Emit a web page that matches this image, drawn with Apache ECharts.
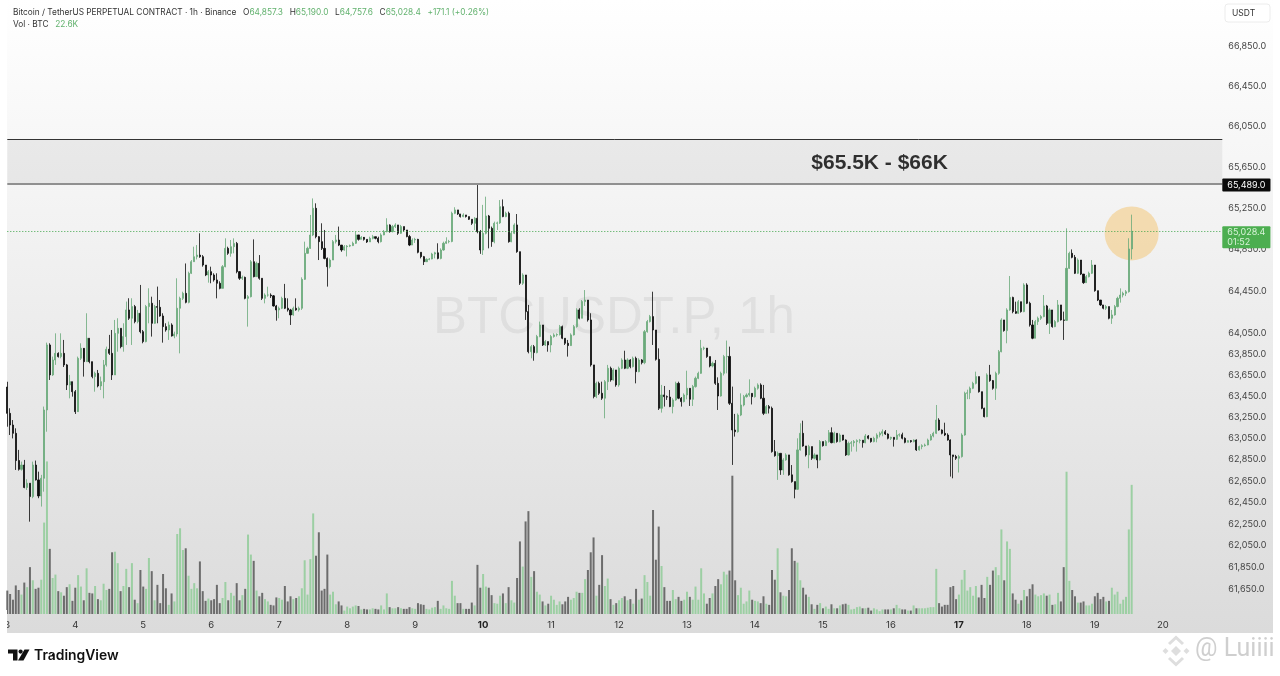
<!DOCTYPE html>
<html><head><meta charset="utf-8">
<style>html,body{margin:0;padding:0;background:#fff}#c{width:1280px;height:676px}</style>
<script src="https://cdn.jsdelivr.net/npm/echarts@6/dist/echarts.min.js"></script>
</head><body><div id="c"></div>
<script>
const firstOpen = 63535;
const closes = [
63286,63176,63098,62842,62760,62800,62590,62630,62505,62800,62661,62511,62676,63318,63935,63650,63792,63855,63824,63855,63745,63555,63586,63491,
63302,63808,63903,63776,63999,63776,63634,63665,63545,63586,63745,63894,63855,63650,64046,64094,63919,64015,64270,64190,64302,64158,64238,64062,
63967,64302,64334,64142,64302,64295,64212,64110,64078,64126,64021,64040,64286,64381,64429,64343,64622,64734,64782,64798,64782,64702,64606,64638,
64606,64558,64526,64477,64686,64863,64815,64879,64911,64638,64574,64583,64381,64397,64734,64590,64718,64574,64381,64413,64413,64405,64308,64270,
64286,64381,64286,64270,64222,64286,64270,64286,64564,64815,64863,64992,65252,64976,64928,64863,64766,64686,64750,64928,64944,64895,64847,64879,
64885,64890,64912,64993,64950,64970,64950,64925,64960,64976,64960,64928,64993,65025,65090,65025,65074,65090,65009,65074,65041,64977,64895,64944,
64950,64825,64783,64734,64757,64760,64808,64820,64766,64847,64912,64928,64930,65203,65236,65197,65171,65187,65171,65145,65106,65155,65025,64847,
65009,65177,65057,64928,65106,65110,65268,65171,65203,64928,65009,65090,64831,64526,64606,64254,63871,63919,63862,64015,64126,63935,63967,63935,
64015,64031,64035,64110,63999,63951,63929,64031,64110,64270,64190,64350,64365,64174,63745,63445,63570,63476,63429,63586,63713,63602,63697,63555,
63713,63792,63713,63792,63729,63808,63681,63792,63767,64062,64158,64206,64078,63798,63334,63460,63444,63440,63350,63413,63570,63429,63397,63460,
63523,63419,63539,63618,63665,63903,63905,63824,63735,63760,63570,63450,63665,63824,63826,63381,63129,63113,63270,63365,63444,63460,63475,63444,
63523,63555,63429,63286,63350,63334,62926,62888,62910,62754,62848,62895,62708,62645,62573,62942,63098,62979,62895,62973,62864,62895,62848,63020,
62982,63020,63104,63010,63098,63020,63082,63035,62895,63004,63010,63020,63029,63033,63010,63073,63051,63020,63051,63082,63098,63113,63091,63051,
63060,63041,63082,63085,63051,63013,63029,63020,63035,62942,62973,62982,62988,63035,63073,63098,63223,63129,63098,63082,63035,62895,62879,62864,
62879,63082,63476,63480,63523,63570,63634,63491,63334,63255,63650,63596,63523,63665,63871,64174,64072,64270,64390,64254,64238,64349,64254,64510,
64334,64126,63999,64158,64190,64206,64308,64142,64270,64110,64158,64318,64174,64170,64670,64815,64776,64622,64750,64615,64532,64590,64622,64702,
64455,64365,64318,64286,64302,64190,64222,64302,64381,64413,64429,64445,64857.3,65028.4];
const highs = [
63585,63334,63223,63145,62942,62832,62848,62667,62630,62832,62842,62738,62708,63350,63957,63951,63824,64046,63865,64046,63983,63754,63650,63586,
63507,63824,63951,63808,64238,63999,63776,63681,63697,63634,63792,63919,64031,64078,64174,64190,64094,64142,64350,64382,64382,64318,64270,64510,
64078,64318,64478,64397,64318,64494,64365,64238,64142,64158,64142,64062,64574,64397,64445,64717,64638,64750,64879,64895,65009,64798,64702,64654,
64686,64622,64622,64545,64702,64960,64879,64944,64960,64925,64644,64600,64590,64413,64750,64950,64734,64798,64574,64429,64493,64429,64413,64318,
64302,64397,64520,64381,64280,64302,64381,64302,64583,64928,64879,65187,65348,65300,64982,65106,65041,64775,64766,64944,64993,65074,64895,64895,
64895,64900,64928,65025,64993,64982,64963,64950,64976,64993,64976,64976,65009,65041,65155,65096,65090,65106,65090,65090,65074,65041,64993,64960,
64965,64955,64825,64790,64766,64770,64820,64830,64912,64863,64928,64970,64945,65219,65262,65236,65197,65203,65187,65171,65145,65165,65489,65041,
65285,65365,65187,65074,65122,65122,65332,65338,65219,65219,65025,65106,65196,64831,64622,64590,64318,63935,63935,64031,64158,64126,63983,63967,
64031,64046,64046,64126,64120,63999,63983,64046,64126,64286,64286,64365,64461,64365,64238,63745,63586,63586,63586,63602,63745,63729,63713,63634,
63729,63808,63880,63808,63800,63824,63824,63808,63800,64078,64174,64222,64445,64078,63903,63555,63545,63455,63507,63429,63586,63586,63440,63475,
63690,63523,63555,63634,63681,63983,63919,63905,63824,63776,63792,63627,63681,63840,63977,63919,63539,63281,63285,63475,63460,63475,63608,63475,
63539,63570,63570,63555,63365,63365,63350,63035,62926,62910,62864,62910,62895,62800,62645,63051,63192,63217,62979,62989,62973,62910,62895,63035,
63020,63035,63129,63154,63113,63098,63098,63082,63041,63020,63026,63035,63041,63045,63033,63091,63082,63051,63066,63098,63113,63135,63129,63098,
63066,63060,63129,63098,63104,63060,63035,63035,63041,63041,62982,62995,63001,63048,63091,63113,63365,63240,63135,63198,63098,63041,62895,62895,
62895,63098,63491,63510,63539,63585,63681,63634,63491,63340,63665,63745,63602,63681,63887,64190,64174,64286,64596,64397,64349,64365,64349,64526,
64526,64349,64174,64174,64206,64222,64413,64318,64286,64270,64174,64365,64318,64254,65057,64831,64853,64799,64766,64750,64615,64606,64638,64750,
64702,64455,64365,64318,64318,64302,64270,64318,64397,64477,64445,64461,64961,65190.0];
const lows = [
63160,63082,63050,62754,62748,62748,62583,62567,62272,62490,62655,62490,62412,62551,63113,63602,63640,63745,63815,63808,63725,63507,63428,63444,
63280,63318,63792,63634,63776,63760,63618,63491,63532,63507,63428,63729,63840,63602,63650,63871,63903,63871,63935,64174,63935,64142,64142,64046,
63951,63960,64142,64015,64136,64142,64205,63957,64062,63983,64015,63999,64015,63855,64365,64333,64333,64615,64734,64756,64772,64686,64595,64532,
64526,64542,64381,64468,64477,64680,64800,64782,64815,64622,64558,64558,64372,64110,64390,64583,64590,64560,64365,64333,64397,64385,64302,64167,
64190,64278,64278,64254,64126,64214,64262,64254,64270,64558,64810,64857,64982,64960,64750,64847,64757,64494,64670,64750,64910,64885,64830,64840,
64785,64875,64885,64905,64938,64950,64938,64915,64925,64950,64950,64912,64920,64990,65018,65015,65018,65060,64993,65003,65025,64970,64885,64895,
64915,64815,64766,64702,64735,64748,64757,64766,64757,64757,64840,64905,64912,64922,65195,65187,65162,65165,65162,65138,65090,65041,65009,64810,
64799,64998,64863,64878,64912,65041,65100,65165,65165,64918,64922,65001,64820,64510,64510,64174,63855,63808,63785,63855,64009,63925,63925,63871,
63865,64005,64015,64025,63990,63935,63824,63925,64025,64100,64180,64190,64308,64158,63729,63428,63430,63460,63413,63239,63507,63586,63596,63538,
63538,63705,63705,63705,63713,63721,63570,63675,63750,63752,64052,64150,63935,63786,63318,63293,63350,63413,63345,63286,63405,63420,63350,63390,
63419,63356,63356,63530,63610,63660,63885,63812,63722,63722,63555,63318,63444,63645,63665,63365,62801,63067,63104,63260,63352,63435,63444,63370,
63435,63510,63420,63270,63280,63285,62916,62878,62661,62708,62708,62840,62700,62635,62489,62567,62935,62972,62880,62770,62848,62854,62770,62842,
62973,62979,63010,63004,63004,63010,63013,63029,62885,62889,62926,62973,62926,63004,62963,63004,63041,63010,63013,63013,63060,63070,63082,63041,
63035,62973,63035,63066,63041,63004,63013,63010,63013,62932,62935,62948,62973,62985,63029,63060,63091,63123,63088,63072,63029,62692,62676,62848,
62730,62870,63075,63420,63420,63515,63560,63482,63325,63248,63250,63585,63510,63413,63651,63865,64062,63951,64262,64238,64232,64232,64244,64248,
64326,64110,63990,63999,64126,64174,64200,64126,64040,64100,64105,64150,64168,63983,64165,64664,64767,64615,64615,64605,64520,64530,64582,64615,
64445,64355,64308,64276,64270,64180,64136,64215,64295,64340,64390,64403,64436,64757.6];
const volumesK = [
4.1,3.5,2.5,5.0,4.2,3.4,5.5,4.7,8.2,5.9,4.4,4.6,6.0,16.0,26.7,11.4,6.3,6.9,4.0,3.8,3.2,4.7,5.2,2.3,
4.6,6.8,4.8,2.4,8.0,3.7,3.6,4.9,2.6,2.4,5.3,4.2,4.4,10.8,10.9,8.9,4.0,4.9,7.9,4.7,8.9,2.5,1.9,7.7,
4.8,4.4,9.8,7.5,2.4,5.1,1.9,7.0,4.5,1.6,3.6,2.2,14.0,15.0,11.2,11.5,6.7,4.4,5.4,4.5,9.2,4.0,2.3,2.7,
2.4,2.6,5.1,1.9,2.8,5.6,2.4,3.7,3.2,5.4,2.4,3.3,4.4,13.9,10.4,9.3,4.1,3.1,3.7,2.6,2.2,1.6,1.5,2.9,
2.8,2.5,4.9,2.2,3.1,2.6,2.8,3.1,4.5,9.4,3.4,9.6,17.6,10.2,14.3,4.1,4.4,10.4,3.4,3.9,1.7,2.2,1.5,0.6,
1.3,1.0,1.3,1.5,1.4,0.8,0.9,0.8,0.8,1.0,0.9,0.8,1.5,0.8,3.6,1.2,1.0,1.0,1.2,1.0,0.9,0.9,1.2,1.0,
0.9,1.9,1.7,1.6,0.9,0.8,1.1,1.2,2.3,0.9,1.5,1.0,0.9,5.8,3.2,1.9,1.9,0.9,0.9,0.9,2.0,1.5,8.6,4.6,
7.0,4.8,4.6,3.3,1.9,1.8,3.2,3.6,1.9,4.7,2.4,2.0,6.3,12.7,8.3,16.2,18.0,6.5,7.5,3.9,3.4,2.2,1.5,1.8,
3.2,2.5,1.6,2.2,1.7,2.2,3.0,2.5,2.8,3.9,3.7,3.7,6.1,7.7,10.8,13.4,3.2,5.1,10.3,4.9,6.2,2.6,1.6,1.9,
2.4,2.8,3.1,2.4,2.6,1.8,4.4,2.5,2.7,6.8,5.6,3.2,18.2,9.5,15.3,8.4,4.7,2.3,2.3,4.2,2.6,3.0,2.3,2.5,
3.9,3.0,2.5,4.8,2.5,8.0,3.6,1.8,2.8,3.6,4.9,6.1,5.2,7.4,6.9,7.6,24.2,5.9,3.3,4.6,1.8,2.2,4.1,2.5,
2.3,2.2,1.9,3.1,1.8,1.6,7.7,6.0,11.5,3.8,3.2,3.1,4.2,11.5,9.3,9.0,5.9,4.6,3.4,3.0,1.7,0.9,1.6,1.9,
1.0,1.3,0.9,1.7,1.0,1.0,1.5,1.7,1.8,1.6,0.8,0.9,1.2,1.3,1.0,1.0,1.1,0.6,1.0,0.8,0.5,0.8,0.8,0.8,
0.8,1.0,1.6,1.0,0.8,0.8,0.6,0.6,1.5,1.0,1.0,1.0,1.0,1.1,1.2,1.2,7.9,1.9,1.3,1.6,1.6,4.7,4.9,2.6,
3.4,6.0,7.7,4.1,4.7,3.2,4.9,2.9,5.1,2.8,6.5,5.1,7.6,8.2,6.8,14.8,5.9,12.7,11.4,3.6,2.5,1.8,2.4,4.2,
3.1,4.4,5.2,3.4,3.1,3.3,3.6,3.2,3.4,1.6,1.7,3.7,2.2,8.2,24.9,5.8,4.2,3.1,2.0,2.0,2.2,1.5,1.5,1.8,
3.1,3.7,2.6,3.0,2.2,2.3,4.6,3.4,3.9,1.8,2.5,3.0,14.8,22.6];
const priceTicks = [66850,66450,66050,65650,65250,64850,64450,64050,63850,63650,63450,63250,63050,62850,62650,62450,62250,62050,61850,61650];
const boldDays = ['10','17'];
const zoneLow = 65489, zoneHigh = 65930;
const lastPrice = 65028.4;
const highlightPrice = 65008;
const annotationPrice = 65695;
const firstDay = 3, slotCount = 430;

const opens = closes.map((c,i)=> i===0 ? firstOpen : (i===closes.length-1 ? 64857.3 : closes[i-1]));
const categories = Array.from({length:slotCount},(_,i)=>{
  const d = firstDay+Math.floor(i/24), h = i%24;
  return h===0 ? String(d) : d+' '+h+':00';
});
const UP='#6aa97a', DOWN='#0c0c0c';
const LEFT=7.3, WIDTH=1215;
const fmtPrice = v => Number(v).toLocaleString('en-US',{minimumFractionDigits:1,maximumFractionDigits:1});
const FONT='Inter, "Liberation Sans", sans-serif';
const ICON='#dedede';

const chart = echarts.init(document.getElementById('c'),null,{renderer:'canvas'});
chart.setOption({
  animation:false,
  backgroundColor:'#ffffff',
  textStyle:{fontFamily:FONT},
  grid:[
    {left:LEFT,top:0,width:WIDTH,height:614},
    {left:LEFT,top:454,width:WIDTH,height:160}
  ],
  xAxis:[
    {type:'category',gridIndex:0,data:categories,boundaryGap:false,
     axisLine:{show:false},axisTick:{show:false},axisLabel:{show:false},splitLine:{show:false}},
    {type:'category',gridIndex:1,data:categories,boundaryGap:false,
     axisLine:{show:false},axisTick:{show:false},splitLine:{show:false},
     axisLabel:{show:true,interval:i=>i%24===0,margin:6,color:'#333',fontSize:9.5,fontFamily:FONT,
       showMinLabel:true,hideOverlap:false,
       formatter:v=>boldDays.includes(v)?`{b|${v}}`:v,
       rich:{b:{fontWeight:'bold',fontSize:9.5,color:'#222',fontFamily:FONT}}}}
  ],
  yAxis:[
    {type:'log',logBase:10,gridIndex:0,position:'right',min:61420,max:67311,
     axisLine:{show:false},axisTick:{show:false},splitLine:{show:false},minorTick:{show:false},minorSplitLine:{show:false},
     axisLabel:{show:true,customValues:priceTicks,margin:6,padding:[2,0,0,0],color:'#444',fontSize:9,fontFamily:FONT,formatter:v=>fmtPrice(v)}},
    {type:'value',gridIndex:1,min:0,max:28,show:false,splitLine:{show:false}}
  ],
  series:[
    {type:'scatter',name:'highlight',xAxisIndex:0,yAxisIndex:0,z:1,silent:true,symbolSize:54,
     data:[[397,highlightPrice]],itemStyle:{color:'rgba(243,190,90,0.55)'}},
    {type:'bar',name:'Vol',xAxisIndex:1,yAxisIndex:1,barWidth:2,z:2,silent:true,
     data:volumesK.map((v,i)=>({value:v,itemStyle:{color:closes[i]>=opens[i]?'#9ccfa3':'#6c6c6c'}}))},
    {type:'candlestick',name:'BTCUSDT.P',xAxisIndex:0,yAxisIndex:0,barWidth:1.6,z:3,silent:true,
     data:closes.map((c,i)=>[opens[i],c,lows[i],highs[i]]),
     itemStyle:{color:UP,color0:DOWN,borderColor:UP,borderColor0:DOWN,borderWidth:0.8},
     markArea:{silent:true,itemStyle:{color:'rgba(0,0,0,0.055)'},data:[[{yAxis:zoneLow,x:LEFT},{yAxis:zoneHigh,x:LEFT+WIDTH}]]},
     markLine:{silent:true,symbol:'none',animation:false,data:[
       {yAxis:zoneHigh,lineStyle:{color:'#333',width:1,type:'solid'},label:{show:false}},
       {yAxis:zoneLow,lineStyle:{color:'#909090',width:2,type:'solid'},
        label:{show:true,position:'end',distance:0,formatter:'65,489.0',color:'#fff',fontSize:9,fontFamily:FONT,backgroundColor:'#0b0b0b',padding:[2,5,2,5],borderRadius:1,offset:[0,1]}},
       {yAxis:lastPrice,lineStyle:{color:'#3fa54a',width:1,type:[1,2],opacity:1},
        label:{show:true,position:'end',distance:0,formatter:'65,028.4\n01:52',color:'#d8f3d8',fontSize:9,lineHeight:10,fontFamily:FONT,backgroundColor:'#4cae50',padding:[1,5,1,5],borderRadius:1,offset:[0,6],align:'left'}}
     ]}},
    {type:'scatter',name:'zoneLabel',xAxisIndex:0,yAxisIndex:0,z:4,silent:true,symbolSize:0.01,
     itemStyle:{color:'#000000'},data:[[307.5,annotationPrice]],
     label:{show:true,position:'inside',formatter:'$65.5K - $66K',color:'#000000',fontSize:21,fontWeight:'bold',fontFamily:'"Liberation Sans",sans-serif'}}
  ],
  graphic:[
    {type:'rect',z:-10,silent:true,shape:{x:7,y:0,width:1266,height:633},
     style:{fill:new echarts.graphic.LinearGradient(0,0,0,1,[{offset:0,color:'#ffffff'},{offset:1,color:'#dbdbdb'}])}},
    {type:'text',z:0,silent:true,x:614,y:319,style:{text:'BTCUSDT.P, 1h',fill:'rgba(0,0,0,0.06)',font:'51px "Liberation Sans", sans-serif',align:'center',verticalAlign:'middle'}},
    {type:'rect',z:100,silent:true,shape:{x:0,y:610,width:7,height:30},style:{fill:'#fff'}},
    {type:'text',z:10,silent:true,x:13,y:13,style:{
      rich:{k:{fill:'#333',fontSize:8.3,fontFamily:FONT},g:{fill:'#63b26f',fontSize:8.3,fontFamily:FONT}},
      text:'{k|Bitcoin / TetherUS PERPETUAL CONTRACT · 1h · Binance}  {k|O}{g|64,857.3}  {k|H}{g|65,190.0}  {k|L}{g|64,757.6}  {k|C}{g|65,028.4}  {g|+171.1 (+0.26%)}',
      verticalAlign:'middle'}},
    {type:'text',z:10,silent:true,x:13,y:25,style:{
      rich:{k:{fill:'#333',fontSize:8.3,fontFamily:FONT},g:{fill:'#63b26f',fontSize:8.3,fontFamily:FONT}},
      text:'{k|Vol · BTC}  {g|22.6K}',verticalAlign:'middle'}},
    {type:'rect',z:10,silent:true,shape:{x:1225,y:4,width:45,height:18,r:3},style:{fill:'#fff',stroke:'#ececec',lineWidth:1}},
    {type:'text',z:11,silent:true,x:1232,y:13,style:{text:'USDT',fill:'#333',font:'8.5px '+FONT,verticalAlign:'middle'}},
    {type:'polygon',z:10,silent:true,shape:{points:[[8,649.5],[17.5,649.5],[17.5,660.5],[13,660.5],[13,653.5],[8,653.5]]},style:{fill:'#111'}},
    {type:'circle',z:10,silent:true,shape:{cx:20.6,cy:651.6,r:2.1},style:{fill:'#111'}},
    {type:'polygon',z:10,silent:true,shape:{points:[[24.5,649.5],[29.5,649.5],[23.5,660.5],[18,660.5]]},style:{fill:'#111'}},
    {type:'text',z:10,silent:true,x:34,y:655.5,style:{text:'TradingView',fill:'#111',font:'600 13.9px '+FONT,verticalAlign:'middle'}},
    {type:'polyline',z:10,silent:true,shape:{points:[[1169,644],[1176,637.5],[1183,644]]},style:{fill:'none',stroke:ICON,lineWidth:3}},
    {type:'polyline',z:10,silent:true,shape:{points:[[1169,658],[1176,664.5],[1183,658]]},style:{fill:'none',stroke:ICON,lineWidth:3}},
    {type:'polygon',z:10,silent:true,shape:{points:[[1176,646],[1181,651],[1176,656],[1171,651]]},style:{fill:ICON}},
    {type:'polygon',z:10,silent:true,shape:{points:[[1165.5,648],[1168.5,651],[1165.5,654],[1162.5,651]]},style:{fill:ICON}},
    {type:'polygon',z:10,silent:true,shape:{points:[[1186.5,648],[1189.5,651],[1186.5,654],[1183.5,651]]},style:{fill:ICON}},
    {type:'text',z:10,silent:true,x:1195,y:650,style:{text:'@ Luiiii',fill:'#cfcfcf',font:'25px Roboto, sans-serif',verticalAlign:'middle'}}
  ]
});
</script></body></html>
